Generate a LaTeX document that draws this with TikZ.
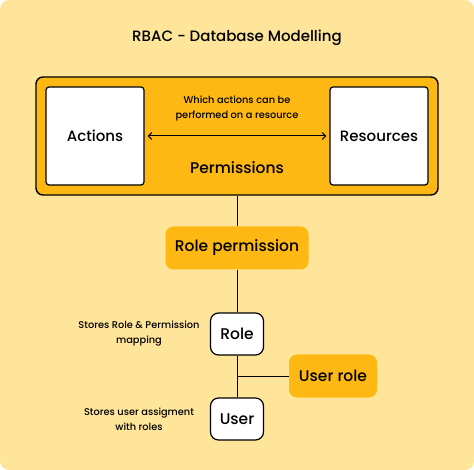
\documentclass[tikz,border=0pt]{standalone}
\usepackage{fontspec}
\setmainfont{Poppins}[UprightFont={* Medium}]
\usetikzlibrary{arrows}

\definecolor{bgyellow}{HTML}{FEE59A}
\definecolor{rbacorange}{HTML}{FDB813}

\tikzset{
	whitebox/.style={draw=black, fill=white, line width=1.2pt, rounded corners=3pt, inner sep=0pt},
	orangebox/.style={fill=rbacorange, rounded corners=8pt, inner sep=0pt, font=\fontsize{15.5}{18}\selectfont},
	note/.style={align=center, font=\fontsize{9.8}{15}\selectfont},
	link/.style={draw=black, line width=1pt}
}

\begin{document}
\begin{tikzpicture}[x=1pt, y=-1pt]
		\path[fill=bgyellow, rounded corners=9pt] (0, 0) rectangle (474, 470);
		\useasboundingbox (0, 0) rectangle (474, 470);
		
		\node (title) at (237, 38) {\fontsize{15}{18}\selectfont RBAC - Database Modelling};
		
		% permissions block
		\node[draw=black, fill=rbacorange, line width=1.4pt, rounded corners=7pt, minimum width=402pt, minimum height=118pt] (perm) at (237, 136) {};
		\node[whitebox, minimum width=98pt, minimum height=98pt, font=\fontsize{15}{18}\selectfont] (actions) at (95, 136) {Actions};
		\node[whitebox, minimum width=98pt, minimum height=98pt, font=\fontsize{15}{18}\selectfont] (resources) at (379, 136) {Resources};
		\node[note] (which) at (237, 109) {Which actions can be\\performed on a resource};
		\node[font=\fontsize{15.5}{18}\selectfont] (permlabel) at (237, 168) {Permissions};
		\path[<->, >=angle 90, line width=1pt, shorten <=3pt, shorten >=3pt] (actions) edge (resources);
		
		% roles
		\node[orangebox, minimum width=143pt, minimum height=43pt] (roleperm) at (237, 248) {Role permission};
		\node[whitebox, rounded corners=8pt, minimum width=53pt, minimum height=42pt, font=\fontsize{15.5}{18}\selectfont] (role) at (237, 334) {Role};
		\node[whitebox, rounded corners=8pt, minimum width=53pt, minimum height=42pt, font=\fontsize{15.5}{18}\selectfont] (user) at (237, 419) {User};
		\node[orangebox, minimum width=88pt, minimum height=43pt] (userrole) at (333, 376) {User role};
		\coordinate (junction) at (237, 376);
		
		\node[note] (rolenote) at (139, 334) {Stores Role \& Permission\\mapping};
		\node[note] (usernote) at (139, 419) {Stores user assigment\\with roles};
		
		\path[link] (perm.south) -- (roleperm.north);
		\path[link] (roleperm.south) -- (role.north);
		\path[link] (role.south) -- (user.north);
		\path[link] (junction) -- (userrole.west);
	\end{tikzpicture}
\end{document}
